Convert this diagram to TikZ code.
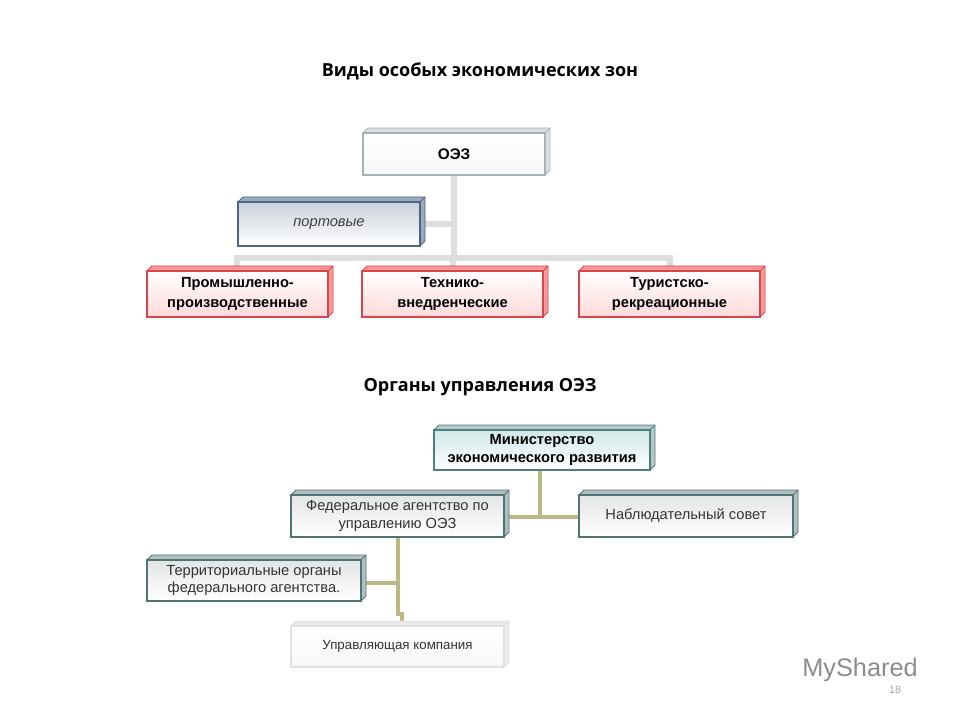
\documentclass[tikz,border=0pt]{standalone}
\usepackage{fontspec}
\setmainfont{Liberation Sans}
\newfontfamily\titlefont{Open Sans}
\begin{document}
\begin{tikzpicture}[x=0.75pt,y=-0.75pt,
  lbl/.style={font=\fontsize{11}{13}\selectfont,align=center},
  greyln/.style={draw=black!13,line width=4pt},
  oliveln/.style={draw=olive!35!white!85!black,line width=3.5pt},
  ttl/.style={font=\titlefont\bfseries\fontsize{13.5}{16}\selectfont}]
\useasboundingbox (0,0) rectangle (960,720);
\definecolor{oezb}{HTML}{A8B0BC}
\definecolor{portb}{HTML}{4A6585}
\definecolor{redb}{HTML}{D8454A}
\newcommand\mybox[9]{%
  \fill[#9,draw=#6,line width=0.6pt] (#2,#3) -- ++(5,-5) -- (#4+5,#3-5) -- (#4+5,#5-5) -- (#4,#5) -- (#4,#3) -- cycle;
  \draw[#6,line width=0.6pt] (#4,#3) -- (#4+5,#3-5);
  \shade[top color=#7,bottom color=#8,draw=#6,line width=0.8pt] (#2,#3) rectangle (#4,#5);
  \node (#1) at ({(#2+#4)/2},{(#3+#5)/2}) [minimum width={(#4-#2)*0.75pt},minimum height={(#5-#3)*0.75pt}] {};}
% connectors section 1
\draw[greyln] (454,175) -- (454,258);
\draw[greyln] (420,224) -- (454,224);
\draw[greyln] (237,271) -- (237,258) -- (670,258) -- (670,271);
\draw[greyln] (453,258) -- (453,271);
% connectors section 2
\draw[oliveln] (540,470) -- (540,517);
\draw[oliveln] (504,517) -- (579,517);
\draw[oliveln] (398,537) -- (398,614) -- (402,614) -- (402,626);
\draw[oliveln] (361,583) -- (398,583);
% boxes section 1
\mybox{oez}{363}{133}{545}{175}{oezb}{white}{black!3}{black!12}
\mybox{port}{238}{202}{420}{246}{portb}{portb!30}{white}{portb!55}
\mybox{prom}{147}{271}{328}{317}{redb}{white}{red!15}{red!40}
\mybox{tech}{362}{271}{543}{317}{redb}{white}{red!15}{red!40}
\mybox{tour}{579}{271}{760}{317}{redb}{white}{red!15}{red!40}
\node[lbl,font=\bfseries\fontsize{11.5}{13.5}\selectfont] at (oez) {ОЭЗ};
\node[lbl,font=\itshape\fontsize{11}{13}\selectfont,text=black!75] at (port) {портовые};
\node[lbl,font=\bfseries\fontsize{11}{14.5}\selectfont] at (prom) {Промышленно-\\производственные};
\node[lbl,font=\bfseries\fontsize{11}{14.5}\selectfont] at (tech) {Технико-\\внедренческие};
\node[lbl,font=\bfseries\fontsize{11}{14.5}\selectfont] at (tour) {Туристско-\\рекреационные};
% boxes section 2
\mybox{min}{434}{430}{650}{470}{teal!40!gray}{teal!18!white}{white}{teal!25!gray!45}
\mybox{fed}{291}{495}{504}{537}{teal!30!gray!90!black}{teal!10!gray!20}{white}{teal!20!gray!50}
\mybox{nab}{579}{495}{793}{537}{teal!30!gray!90!black}{teal!10!gray!20}{white}{teal!20!gray!50}
\mybox{ter}{147}{560}{361}{601}{teal!30!gray!90!black}{teal!10!gray!20}{white}{teal!20!gray!50}
\mybox{upr}{291}{626}{504}{667}{black!12}{white}{black!3}{black!8}
\node[lbl,font=\bfseries\fontsize{11}{13.5}\selectfont] at (min) {Министерство\\экономического развития};
\node[lbl,text=black!80] at (fed) {Федеральное агентство по\\управлению ОЭЗ};
\node[lbl,text=black!80] at (nab) {Наблюдательный совет};
\node[lbl,text=black!80] at (ter) {Территориальные органы\\федерального агентства.};
\node[lbl,font=\fontsize{10}{12}\selectfont,text=black!80] at (upr) {Управляющая компания};
% titles
\node[ttl] (t1) at (480,71) {Виды особых экономических зон};
\node[ttl] (t2) at (480,387) {Органы управления ОЭЗ};
% watermark
\node[text=black!45,font=\fontsize{19}{20}\selectfont] (ms) at (860,670) {MyShared};
\node[text=black!35,font=\fontsize{8}{9}\selectfont] (pg) at (895,690) {18};
\end{tikzpicture}
\end{document}
